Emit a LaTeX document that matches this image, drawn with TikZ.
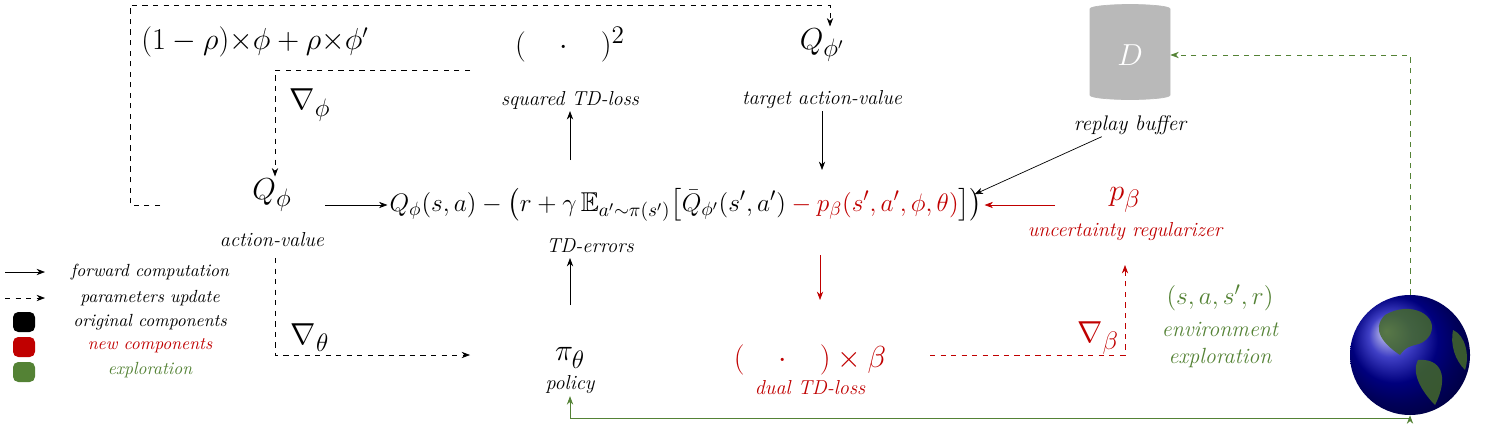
\documentclass[tikz,border=0pt]{standalone}
\usetikzlibrary{shapes, shapes.geometric, arrows.meta, positioning, calc}
\usepackage{amsmath,amssymb}
\definecolor{newred}{RGB}{192,0,0}
\definecolor{expgreen}{RGB}{84,130,53}
\tikzset{
    big/.style={font=\fontsize{19}{22}\selectfont},
    lbl/.style={font=\fontsize{11.5}{13}\selectfont\itshape},
    leg/.style={font=\fontsize{10}{12}\selectfont\itshape},
    upd/.style={->, dashed, >=Stealth},
    fwd/.style={->, >=Stealth},
}
\begin{document}
\begin{tikzpicture}[x=0.02cm, y=-0.02cm, inner sep=1pt]
    \useasboundingbox (0,0) rectangle (1496,429);

    % top row
    \node (Mix) at (255,42) [font=\fontsize{16}{19}\selectfont] {$(1-\rho){\times}\phi+\rho{\times}\phi'$};
    \node (Sq) at (570,45) [big] {$(\quad\cdot\quad)^2$};
    \node (SqL) at (570,100) [lbl] {squared TD-loss};
    \node (Qt) at (822,45) [big] {$Q_{\phi'}$};
    \node (QtL) at (822,100) [lbl] {target action-value};
    \node (D) at (1130,55) [cylinder, shape border rotate=90, aspect=0.3, fill=gray!55, draw=gray!55,
        minimum width=80*0.02cm, minimum height=95*0.02cm, text=white, font=\fontsize{17}{20}\selectfont] {$D$};
    \node (DL) at (1130,125) [lbl, font=\fontsize{12}{14}\selectfont\itshape] {replay buffer};
    \node (GPhi) at (310,105) [big] {$\nabla_{\phi}$};

    % middle row
    \node (Q) at (272,195) [big] {$Q_{\phi}$};
    \node (QL) at (272,240) [lbl] {action-value};
    \node (TD) at (686,205) [font=\fontsize{15.5}{18}\selectfont]
        {$Q_\phi(s,a)-\big(r+\gamma\,\mathbb{E}_{a'\sim\pi(s')}\big[\bar{Q}_{\phi'}(s',a')\textcolor{newred}{{}-p_\beta(s',a',\phi,\theta)}\big]\big)$};
    \node (TDL) at (590,246) [lbl] {TD-errors};
    \node (P) at (1125,200) [big, text=newred] {$p_{\beta}$};
    \node (PL) at (1125,232) [lbl, text=newred] {uncertainty regularizer};

    % bottom row
    \node (Pi) at (570,358) [big] {$\pi_{\theta}$};
    \node (PiL) at (570,385) [lbl] {policy};
    \node (Du) at (810,360) [big, text=newred] {$(\quad\cdot\quad)\times\beta$};
    \node (DuL) at (810,388) [lbl, text=newred] {dual TD-loss};
    \node (GTh) at (310,338) [big] {$\nabla_{\theta}$};
    \node (GBe) at (1098,338) [big, text=newred] {$\nabla_{\beta}$};
    \node (S) at (1220,298) [font=\fontsize{15}{18}\selectfont, text=expgreen] {$(s,a,s',r)$};
    \node (EL) at (1220,345) [lbl, font=\fontsize{12.5}{15}\selectfont\itshape, text=expgreen, align=center] {environment\\exploration};

    % globe
    \node (Env) at (1410,355) [circle, minimum size=120*0.02cm, ball color=blue!70!black, inner sep=0pt] {};
    \fill[expgreen!80!black, opacity=0.85] (1385,315) .. controls (1410,300) and (1440,315) .. (1430,335)
        .. controls (1420,350) and (1410,340) .. (1400,355) .. controls (1385,345) and (1370,330) .. (1385,315);
    \fill[expgreen!80!black, opacity=0.85] (1418,360) .. controls (1440,358) and (1450,375) .. (1435,405)
        .. controls (1425,395) and (1410,375) .. (1418,360);
    \fill[expgreen!80!black, opacity=0.85] (1453,330) .. controls (1465,335) and (1470,355) .. (1465,370)
        .. controls (1455,360) and (1450,345) .. (1453,330);

    % legend
    \coordinate (La) at (5,272);
    \coordinate (Lb) at (5,298);
    \draw[fwd] (La) -- ++(40,0);
    \draw[upd] (Lb) -- ++(40,0);
    \node at (150,272) [leg] {forward computation};
    \node at (150,298) [leg] {parameters update};
    \fill[black, rounded corners=3pt] (13,312) rectangle ++(22,20);
    \fill[newred, rounded corners=3pt] (13,337) rectangle ++(22,20);
    \fill[expgreen, rounded corners=3pt] (13,362) rectangle ++(22,20);
    \node at (150,322) [leg] {original components};
    \node at (150,346) [leg, text=newred] {new components};
    \node at (150,370) [leg, text=expgreen] {exploration};

    % connectors
    \coordinate (Tl) at (160,205);
    \draw[upd] (Tl) -- ++(-30,0) |- (830,5) -- (Qt.north -| 830,0);
    \coordinate (Ga) at (470,70);
    \draw[upd] (Ga) -| (Q.north -| 275,0);
    \draw[fwd] (325,0 |- TD.west) -- (TD.west);
    \draw[fwd] (570,160) -- (SqL.south);
    \draw[fwd] (QtL.south) -- (822,170);
    \draw[fwd] (DL.south west) ++(30,0) -- ($(TD.north east)+(-10,8)$);
    \draw[fwd, newred] (1055,0 |- TD.east) -- (TD.east);
    \draw[fwd, newred] (820,255) -- (820,300);
    \draw[fwd] (570,305) -- (570,258);
    \coordinate (Gb) at (275,258);
    \draw[upd] (Gb) |- (470,355);
    \coordinate (Gc) at (930,355);
    \draw[upd, newred] (Gc) -| (1125,265);
    \draw[<->, >=Stealth, expgreen] (PiL.south) -- (570,418) -| (Env.south);
    \draw[upd, expgreen] (Env.north) |- (D.east);
\end{tikzpicture}
\end{document}
